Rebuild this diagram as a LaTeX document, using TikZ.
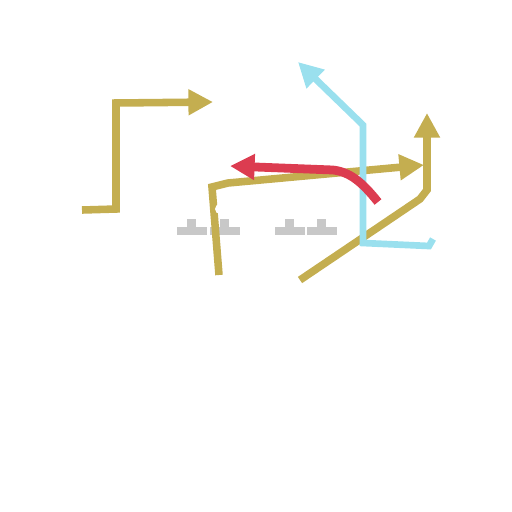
\documentclass[tikz,border=0pt]{standalone}
\usetikzlibrary{arrows.meta}
\definecolor{routegold}{HTML}{C4AE50}
\definecolor{routesky}{HTML}{9AE0EE}
\definecolor{routered}{HTML}{DC3C50}
\definecolor{stopgray}{HTML}{C8C8C8}
\begin{document}
\begin{tikzpicture}[x=0.02cm,y=-0.02cm,line join=miter,
	goldline/.style={draw=routegold,line width=4.3pt},
	skyline/.style={draw=routesky,line width=3.8pt},
	redline/.style={draw=routered,line width=5pt},
	tip/.style={-{Triangle[length=14pt,width=14pt]}},
	tee/.style={fill=stopgray}]
	\useasboundingbox (0,0) rectangle (512,512);
	% stops
	\foreach \x in {177,210,275,307}{
		\fill[tee] (\x,227) rectangle ++(30,8);
		\fill[tee] (\x+10,219) rectangle ++(9,8);
	}
	% gold routes
	\draw[goldline,tip] (82,210) -- (116,209) -- (116,103) -- (213,102);
	\draw[goldline,tip] (219,275) -- (212,187) -- (228,183) -- (424,165);
	\fill[white] (220,209) circle (5);
	\draw[goldline,tip] (300,280) -- (383,224) -- (420,199) -- (427,190) -- (427,113);
	% sky route
	\draw[skyline,tip] (433,239) -- (429,246) -- (363,243) -- (363,125) -- (298,62);
	% red route
	\draw[redline,tip] (378,202) .. controls (362,182) and (350,172) .. (333,170) -- (230,166);
\end{tikzpicture}
\end{document}
